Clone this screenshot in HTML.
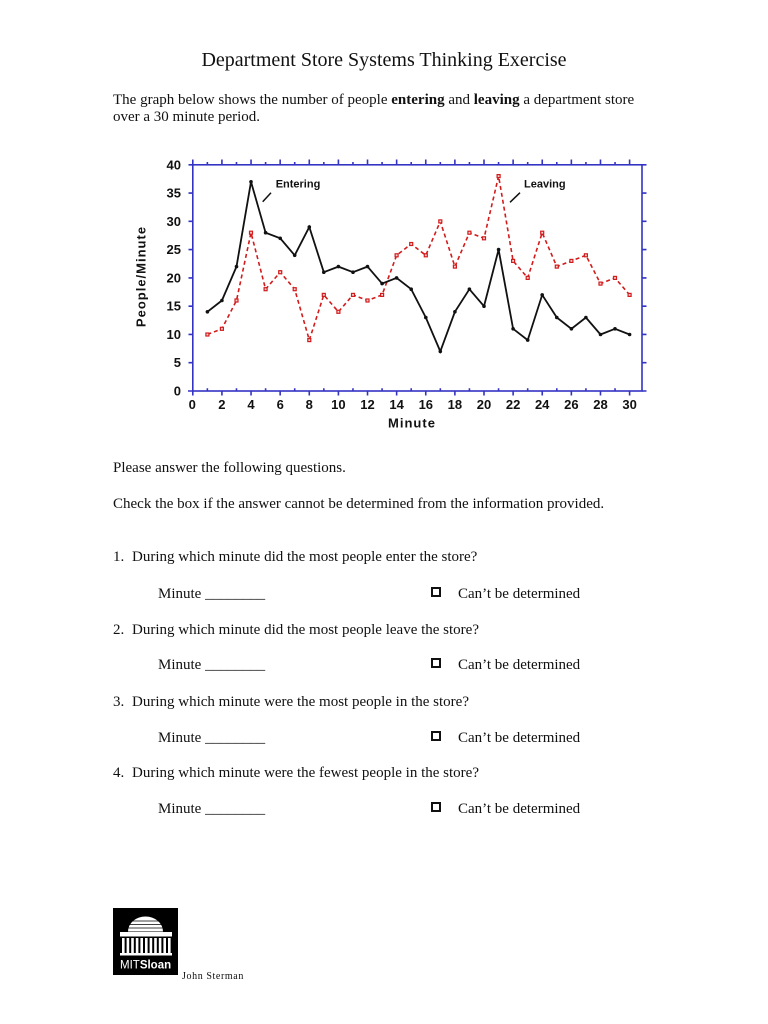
<!DOCTYPE html>
<html>
<head>
<meta charset="utf-8">
<style>
  html, body { margin: 0; padding: 0; background: #fff; }
  body { width: 768px; height: 1024px; overflow: hidden; position: relative; }
  svg { position: absolute; left: 0; top: 0; }
  .serif { font-family: "Liberation Serif", "Times New Roman", serif; fill: #111; }
  .sans { font-family: "Liberation Sans", Arial, sans-serif; font-weight: bold; fill: #111; }
</style>
</head>
<body>
<svg width="768" height="1024" viewBox="0 0 768 1024" xmlns="http://www.w3.org/2000/svg">
  <!-- Title & intro -->
  <text class="serif" x="384" y="66" font-size="20" text-anchor="middle">Department Store Systems Thinking Exercise</text>
  <text class="serif" x="113" y="104" font-size="15">The graph below shows the number of people <tspan font-weight="bold">entering</tspan> and <tspan font-weight="bold">leaving</tspan> a department store</text>
  <text class="serif" x="113" y="121" font-size="15">over a 30 minute period.</text>

  <!-- Chart axes box -->
  <g stroke="#3434c4" stroke-width="1.6" fill="none">
    <rect x="192.8" y="164.8" width="449.2" height="226.2"/>
    <path d="M192.8 164.8V159.5 M207.36 164.8V162 M221.92 164.8V159.5 M236.48 164.8V162 M251.04 164.8V159.5 M265.6 164.8V162 M280.16 164.8V159.5 M294.72 164.8V162 M309.28 164.8V159.5 M323.84 164.8V162 M338.4 164.8V159.5 M352.96 164.8V162 M367.52 164.8V159.5 M382.08 164.8V162 M396.64 164.8V159.5 M411.2 164.8V162 M425.76 164.8V159.5 M440.32 164.8V162 M454.88 164.8V159.5 M469.44 164.8V162 M484 164.8V159.5 M498.56 164.8V162 M513.12 164.8V159.5 M527.68 164.8V162 M542.24 164.8V159.5 M556.8 164.8V162 M571.36 164.8V159.5 M585.92 164.8V162 M600.48 164.8V159.5 M615.04 164.8V162 M629.6 164.8V159.5"/>
    <path d="M192.8 391V395.5 M207.36 391V388.3 M221.92 391V395.5 M236.48 391V388.3 M251.04 391V395.5 M265.6 391V388.3 M280.16 391V395.5 M294.72 391V388.3 M309.28 391V395.5 M323.84 391V388.3 M338.4 391V395.5 M352.96 391V388.3 M367.52 391V395.5 M382.08 391V388.3 M396.64 391V395.5 M411.2 391V388.3 M425.76 391V395.5 M440.32 391V388.3 M454.88 391V395.5 M469.44 391V388.3 M484 391V395.5 M498.56 391V388.3 M513.12 391V395.5 M527.68 391V388.3 M542.24 391V395.5 M556.8 391V388.3 M571.36 391V395.5 M585.92 391V388.3 M600.48 391V395.5 M615.04 391V388.3 M629.6 391V395.5"/>
    <path d="M192.8 391H188 M192.8 362.7H188.5 M192.8 334.45H188.5 M192.8 306.2H188.5 M192.8 277.9H188.5 M192.8 249.6H188.5 M192.8 221.35H188.5 M192.8 193.1H188.5 M192.8 164.8H188.5"/>
    <path d="M642 391H646.5 M642 362.7H646.5 M642 334.45H646.5 M642 306.2H646.5 M642 277.9H646.5 M642 249.6H646.5 M642 221.35H646.5 M642 193.1H646.5 M642 164.8H646.5"/>
  </g>

  <!-- Y tick labels -->
  <g class="sans" font-size="13" text-anchor="end">
    <text x="181" y="395.5">0</text>
    <text x="181" y="367.2">5</text>
    <text x="181" y="339">10</text>
    <text x="181" y="310.7">15</text>
    <text x="181" y="282.4">20</text>
    <text x="181" y="254.1">25</text>
    <text x="181" y="225.9">30</text>
    <text x="181" y="197.6">35</text>
    <text x="181" y="169.3">40</text>
  </g>
  <!-- X tick labels -->
  <g class="sans" font-size="13" text-anchor="middle">
    <text x="192.3" y="409">0</text>
    <text x="221.9" y="409">2</text>
    <text x="251" y="409">4</text>
    <text x="280.2" y="409">6</text>
    <text x="309.3" y="409">8</text>
    <text x="338.4" y="409">10</text>
    <text x="367.5" y="409">12</text>
    <text x="396.6" y="409">14</text>
    <text x="425.8" y="409">16</text>
    <text x="454.9" y="409">18</text>
    <text x="484" y="409">20</text>
    <text x="513.1" y="409">22</text>
    <text x="542.2" y="409">24</text>
    <text x="571.4" y="409">26</text>
    <text x="600.5" y="409">28</text>
    <text x="629.6" y="409">30</text>
  </g>
  <text class="sans" x="412" y="427.5" font-size="13" text-anchor="middle" letter-spacing="1">Minute</text>
  <text class="sans" font-size="13" text-anchor="middle" letter-spacing="1" transform="translate(145.3,276.5) rotate(-90)">People/Minute</text>

  <!-- Leaving series (red dashed) -->
  <polyline fill="none" stroke="#d21c1c" stroke-width="1.6" stroke-dasharray="4,3"
    points="207.4,334.5 221.9,328.8 236.5,300.5 251.0,232.7 265.6,289.2 280.2,272.2 294.7,289.2 309.3,340.1 323.8,294.9 338.4,311.8 353.0,294.9 367.5,300.5 382.1,294.9 396.6,255.3 411.2,244.0 425.8,255.3 440.3,221.4 454.9,266.6 469.4,232.7 484.0,238.3 498.6,176.1 513.1,260.9 527.7,277.9 542.2,232.7 556.8,266.6 571.4,260.9 585.9,255.3 600.5,283.6 615.0,277.9 629.6,294.9"/>
  <g fill="#f4d0d0" stroke="#d21c1c" stroke-width="1.2">
    <rect x="205.9" y="333" width="3" height="3"/>
    <rect x="220.4" y="327.3" width="3" height="3"/>
    <rect x="235" y="299" width="3" height="3"/>
    <rect x="249.5" y="231.2" width="3" height="3"/>
    <rect x="264.1" y="287.7" width="3" height="3"/>
    <rect x="278.7" y="270.7" width="3" height="3"/>
    <rect x="293.2" y="287.7" width="3" height="3"/>
    <rect x="307.8" y="338.6" width="3" height="3"/>
    <rect x="322.3" y="293.4" width="3" height="3"/>
    <rect x="336.9" y="310.3" width="3" height="3"/>
    <rect x="351.5" y="293.4" width="3" height="3"/>
    <rect x="366" y="299" width="3" height="3"/>
    <rect x="380.6" y="293.4" width="3" height="3"/>
    <rect x="395.1" y="253.8" width="3" height="3"/>
    <rect x="409.7" y="242.5" width="3" height="3"/>
    <rect x="424.3" y="253.8" width="3" height="3"/>
    <rect x="438.8" y="219.9" width="3" height="3"/>
    <rect x="453.4" y="265.1" width="3" height="3"/>
    <rect x="467.9" y="231.2" width="3" height="3"/>
    <rect x="482.5" y="236.8" width="3" height="3"/>
    <rect x="497.1" y="174.6" width="3" height="3"/>
    <rect x="511.6" y="259.4" width="3" height="3"/>
    <rect x="526.2" y="276.4" width="3" height="3"/>
    <rect x="540.7" y="231.2" width="3" height="3"/>
    <rect x="555.3" y="265.1" width="3" height="3"/>
    <rect x="569.9" y="259.4" width="3" height="3"/>
    <rect x="584.4" y="253.8" width="3" height="3"/>
    <rect x="599" y="282.1" width="3" height="3"/>
    <rect x="613.5" y="276.4" width="3" height="3"/>
    <rect x="628.1" y="293.4" width="3" height="3"/>
  </g>

  <!-- Entering series (black solid) -->
  <polyline fill="none" stroke="#111" stroke-width="1.8"
    points="207.4,311.8 221.9,300.5 236.5,266.6 251.0,181.8 265.6,232.7 280.2,238.3 294.7,255.3 309.3,227.0 323.8,272.2 338.4,266.6 353.0,272.2 367.5,266.6 382.1,283.6 396.6,277.9 411.2,289.2 425.8,317.5 440.3,351.4 454.9,311.8 469.4,289.2 484.0,306.2 498.6,249.6 513.1,328.8 527.7,340.1 542.2,294.9 556.8,317.5 571.4,328.8 585.9,317.5 600.5,334.5 615.0,328.8 629.6,334.5"/>
  <g fill="#111">
    <circle cx="207.4" cy="311.8" r="1.8"/><circle cx="221.9" cy="300.5" r="1.8"/><circle cx="236.5" cy="266.6" r="1.8"/><circle cx="251.0" cy="181.8" r="1.8"/><circle cx="265.6" cy="232.7" r="1.8"/><circle cx="280.2" cy="238.3" r="1.8"/><circle cx="294.7" cy="255.3" r="1.8"/><circle cx="309.3" cy="227.0" r="1.8"/><circle cx="323.8" cy="272.2" r="1.8"/><circle cx="338.4" cy="266.6" r="1.8"/><circle cx="353.0" cy="272.2" r="1.8"/><circle cx="367.5" cy="266.6" r="1.8"/><circle cx="382.1" cy="283.6" r="1.8"/><circle cx="396.6" cy="277.9" r="1.8"/><circle cx="411.2" cy="289.2" r="1.8"/><circle cx="425.8" cy="317.5" r="1.8"/><circle cx="440.3" cy="351.4" r="1.8"/><circle cx="454.9" cy="311.8" r="1.8"/><circle cx="469.4" cy="289.2" r="1.8"/><circle cx="484.0" cy="306.2" r="1.8"/><circle cx="498.6" cy="249.6" r="1.8"/><circle cx="513.1" cy="328.8" r="1.8"/><circle cx="527.7" cy="340.1" r="1.8"/><circle cx="542.2" cy="294.9" r="1.8"/><circle cx="556.8" cy="317.5" r="1.8"/><circle cx="571.4" cy="328.8" r="1.8"/><circle cx="585.9" cy="317.5" r="1.8"/><circle cx="600.5" cy="334.5" r="1.8"/><circle cx="615.0" cy="328.8" r="1.8"/><circle cx="629.6" cy="334.5" r="1.8"/>
  </g>

  <!-- Series labels -->
  <text class="sans" x="275.7" y="187.5" font-size="11">Entering</text>
  <line x1="262.7" y1="201.7" x2="271" y2="192.7" stroke="#111" stroke-width="1.5"/>
  <text class="sans" x="524" y="187.5" font-size="11">Leaving</text>
  <line x1="510" y1="202.3" x2="520" y2="192.7" stroke="#111" stroke-width="1.5"/>

  <!-- Questions -->
  <g class="serif" font-size="15">
    <text x="113" y="472">Please answer the following questions.</text>
    <text x="113" y="508">Check the box if the answer cannot be determined from the information provided.</text>

    <text x="113" y="561">1.</text>
    <text x="132" y="561">During which minute did the most people enter the store?</text>
    <text x="158" y="598">Minute ________</text>
    <text x="458" y="598">Can’t be determined</text>

    <text x="113" y="634">2.</text>
    <text x="132" y="634">During which minute did the most people leave the store?</text>
    <text x="158" y="669">Minute ________</text>
    <text x="458" y="669">Can’t be determined</text>

    <text x="113" y="706">3.</text>
    <text x="132" y="706">During which minute were the most people in the store?</text>
    <text x="158" y="742">Minute ________</text>
    <text x="458" y="742">Can’t be determined</text>

    <text x="113" y="777">4.</text>
    <text x="132" y="777">During which minute were the fewest people in the store?</text>
    <text x="158" y="813">Minute ________</text>
    <text x="458" y="813">Can’t be determined</text>
  </g>
  <g fill="none" stroke="#111" stroke-width="2">
    <rect x="432" y="588" width="8" height="8"/>
    <rect x="432" y="659" width="8" height="8"/>
    <rect x="432" y="732" width="8" height="8"/>
    <rect x="432" y="803" width="8" height="8"/>
  </g>

  <!-- MIT Sloan logo -->
  <rect x="113" y="908" width="65" height="67" fill="#000"/>
  <path d="M128 931.5 A17.5 15 0 0 1 163 931.5 Z" fill="#fff"/>
  <g stroke="#000" stroke-width="0.8">
    <line x1="128" y1="921" x2="163" y2="921"/>
    <line x1="128" y1="924.5" x2="163" y2="924.5"/>
    <line x1="128" y1="928" x2="163" y2="928"/>
  </g>
  <rect x="120" y="932" width="52" height="4.5" fill="#fff"/>
  <g fill="#fff">
    <rect x="122" y="938" width="2.6" height="15"/>
    <rect x="126.6" y="938" width="2.6" height="15"/>
    <rect x="131.2" y="938" width="2.6" height="15"/>
    <rect x="135.8" y="938" width="2.6" height="15"/>
    <rect x="140.4" y="938" width="2.6" height="15"/>
    <rect x="145" y="938" width="2.6" height="15"/>
    <rect x="149.6" y="938" width="2.6" height="15"/>
    <rect x="154.2" y="938" width="2.6" height="15"/>
    <rect x="158.8" y="938" width="2.6" height="15"/>
    <rect x="163.4" y="938" width="2.6" height="15"/>
    <rect x="168" y="938" width="2.6" height="15"/>
  </g>
  <rect x="120" y="953" width="52" height="2.5" fill="#fff"/>
  <text x="120" y="968.5" font-family="Liberation Sans, Arial, sans-serif" font-size="11.5" fill="#fff">MIT<tspan font-weight="bold">Sloan</tspan></text>

  <text class="serif" x="182" y="979" font-size="10" letter-spacing="0.6">John Sterman</text>
</svg>
</body>
</html>
